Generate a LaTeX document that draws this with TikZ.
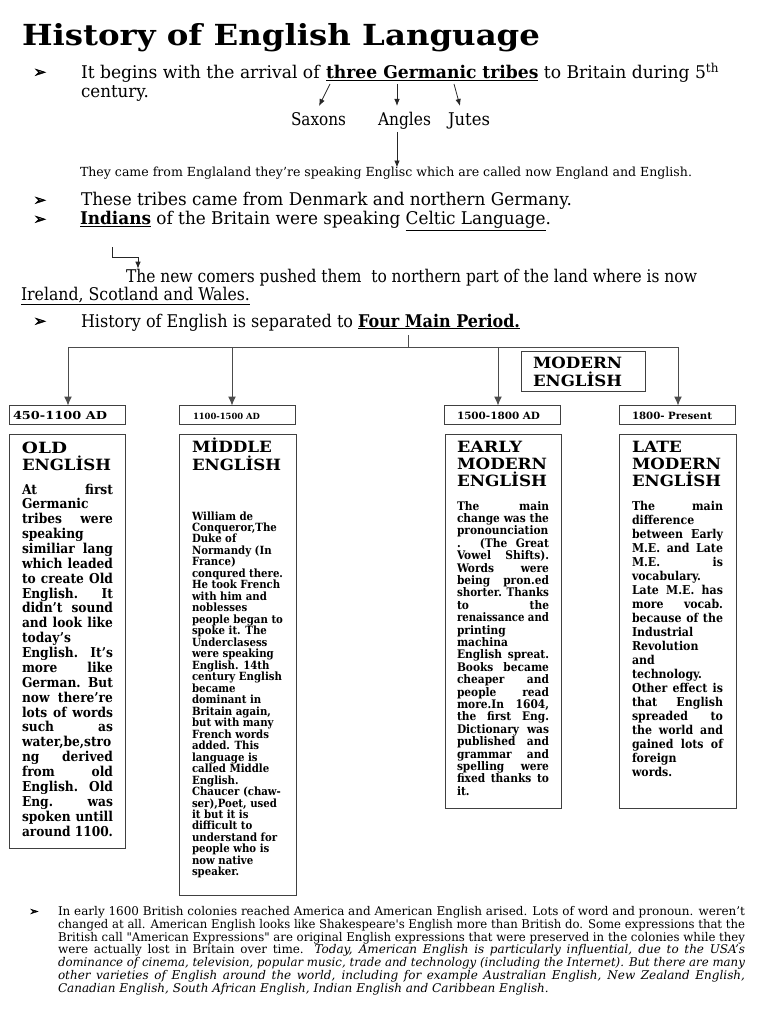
\documentclass[tikz,border=0pt]{standalone}
\usepackage{fontspec}
\usepackage{graphicx}
\setmainfont{DejaVu Serif Condensed}
\newfontfamily\wide{DejaVu Serif}
\newfontfamily\symf[FakeBold=3]{DejaVu Sans}
\usetikzlibrary{arrows.meta}
\newsavebox\lbox
\newlength\lw
\newcommand\fitw[2]{\resizebox{#1}{\height}{#2}}
\newcommand\jl[2]{\sbox\lbox{#2}\ifdim\wd\lbox>#1\relax\resizebox{#1}{\height}{\usebox\lbox}\else\makebox[#1][s]{#2}\fi}
\newcommand\nl[2]{\sbox\lbox{#2}\ifdim\wd\lbox>#1\relax\resizebox{#1}{\height}{\usebox\lbox}\else\usebox\lbox\fi}
\newcommand\jln[1]{\hbox{\jl{\lw}{#1}}}
\newcommand\rln[1]{\hbox{\nl{\lw}{#1}}}
\newcommand\blk[3]{\lw=#1\relax\vtop{\baselineskip=#2\relax #3}}
\begin{document}
\begin{tikzpicture}[x=1pt,y=-1pt,
  every node/.style={inner sep=0pt, outer sep=0pt},
  txt/.style={anchor=base west, font=\fontsize{17.5}{17.5}\selectfont\wide},
  bul/.style={font=\fontsize{15}{15}\selectfont\symf},
  arr/.style={-{Latex[length=7pt,width=5.5pt]}, line width=0.8pt, black!85},
  tree/.style={line width=1pt, black!70},
  treearr/.style={tree, -{Latex[length=9pt,width=8pt]}},
  frame/.style={draw=black!75, line width=1pt},
  datebox/.style={frame, minimum width=116pt, minimum height=19pt},
  head/.style={anchor=base west, font=\fontsize{15.5}{15.5}\selectfont\bfseries},
  datetxt/.style={anchor=base west},
  body/.style={anchor=base west}]
\useasboundingbox (0,0) rectangle (768,1024);

% title
\node[anchor=base west] (title) at (22,46) {\fontsize{29}{29}\selectfont\wide\bfseries\fitw{518pt}{History of English Language}};

% bullets and lines
\node[bul] (b1) at (40,73) {➢};
\node[txt] (l1) at (81,79) {\fitw{638pt}{It begins with the arrival of \textbf{\underline{three Germanic tribes}} to Britain during 5\textsuperscript{th}}};
\node[txt] (l1b) at (81,98) {\fitw{68pt}{century.}};

\node[txt] (sax) at (291,126) {\fitw{55pt}{Saxons}};
\node[txt] (ang) at (378,126) {\fitw{53pt}{Angles}};
\node[txt] (jut) at (448,126) {\fitw{42pt}{Jutes}};

\coordinate (t1) at (330,84);
\coordinate (t2) at (397,84);
\coordinate (t3) at (454,84);
\coordinate (s1) at (319,106);
\coordinate (s2) at (397,106);
\coordinate (s3) at (460,106);
\draw[arr] (t1) -- (s1);
\draw[arr] (t2) -- (s2);
\draw[arr] (t3) -- (s3);

\node[anchor=base west, font=\fontsize{12.5}{12.5}\selectfont\wide] (came) at (80,177) {\fitw{612pt}{They came from Englaland they’re speaking Englisc which are called now England and English.}};
\draw[arr] (ang.south -| t2) ++(0,2) -- (came.north -| t2);

\node[bul] (b2) at (40,201) {➢};
\node[txt] (l2) at (81,206) {\fitw{491pt}{These tribes came from Denmark and northern Germany.}};
\node[bul] (b3) at (40,220) {➢};
\node[txt] (l3) at (80,225) {\fitw{471pt}{\textbf{\underline{Indians}} of the Britain were speaking \underline{Celtic Language}.}};

\coordinate (e1) at (112,247);
\coordinate (e2) at (138,257);
\node[txt] (l4) at (126,282) {\fitw{571pt}{The new comers pushed them\ \ to northern part of the land where is now}};
\draw[arr] (e1) |- (e2) -- (e2 |- l4.north);
\node[txt] (l5) at (21,300) {\fitw{229pt}{\underline{Ireland, Scotland and Wales.}}};

\node[bul] (b4) at (40,322) {➢};
\node[txt] (l6) at (81,327) {\fitw{439pt}{History of English is separated to \textbf{\underline{Four Main Period.}}}};

% tree
\coordinate (stub) at (408,335);
\coordinate (hj) at (408,347);
\coordinate (j1) at (68,347);
\coordinate (j2) at (232,347);
\coordinate (j3) at (498,347);
\coordinate (j4) at (678,347);
\draw[tree] (stub) -- (hj);
\draw[tree] (j1) -- (j4);

\node[datebox] (d1) at (67,415) {};
\node[datebox] (d2) at (237,415) {};
\node[datebox] (d3) at (502,415) {};
\node[datebox] (d4) at (677,415) {};
\draw[treearr] (j1) -- (j1 |- d1.north);
\draw[treearr] (j2) -- (j2 |- d2.north);
\draw[treearr] (j3) -- (j3 |- d3.north);
\draw[treearr] (j4) -- (j4 |- d4.north);

\node[datetxt, font=\bfseries\fontsize{11}{11}\selectfont] (d1t) at (13,419.5) {\fitw{94pt}{450-1100 AD}};
\node[datetxt, font=\bfseries\fontsize{8.5}{8.5}\selectfont] (d2t) at (193,419) {\fitw{67pt}{1100-1500 AD}};
\node[datetxt, font=\bfseries\fontsize{10}{10}\selectfont] (d3t) at (457,419) {\fitw{83pt}{1500-1800 AD}};
\node[datetxt, font=\bfseries\fontsize{10}{10}\selectfont] (d4t) at (632,419) {\fitw{80pt}{1800- Present}};

% modern english box
\node[frame, minimum width=124pt, minimum height=40pt] (mod) at (583,371) {};
\node[head] (modt) at (533,368) {\vtop{\baselineskip=18pt\hbox{\fitw{89pt}{MODERN}}\hbox{\fitw{89pt}{ENGLİSH}}}};

% content boxes
\node[frame, minimum width=116pt, minimum height=414pt] (c1) at (67,641) {};
\node[frame, minimum width=117pt, minimum height=461pt] (c2) at (237.5,664.5) {};
\node[frame, minimum width=116pt, minimum height=374pt] (c3) at (503,621) {};
\node[frame, minimum width=117pt, minimum height=374pt] (c4) at (677.5,621) {};

\node[head] (h1) at (22,453) {\vtop{\baselineskip=17pt\hbox{\fitw{45pt}{OLD}}\hbox{\fitw{89pt}{ENGLİSH}}}};
\node[head] (h2) at (192,452) {\vtop{\baselineskip=18pt\hbox{\fitw{80pt}{MİDDLE}}\hbox{\fitw{89pt}{ENGLİSH}}}};
\node[head] (h3) at (457,452) {\vtop{\baselineskip=17pt\hbox{\fitw{65pt}{EARLY}}\hbox{\fitw{90pt}{MODERN}}\hbox{\fitw{90pt}{ENGLİSH}}}};
\node[head] (h4) at (632,452) {\vtop{\baselineskip=17pt\hbox{\fitw{50pt}{LATE}}\hbox{\fitw{89pt}{MODERN}}\hbox{\fitw{89pt}{ENGLİSH}}}};

\node[body] (bt1) at (22,494) {\bfseries\fontsize{13.6}{14.87}\selectfont\blk{91pt}{14.87pt}{%
\jln{At first}
\rln{Germanic}
\jln{tribes were}
\rln{speaking}
\jln{similiar lang}
\jln{which leaded}
\jln{to create Old}
\jln{English. It}
\jln{didn’t sound}
\jln{and look like}
\rln{today’s}
\jln{English. It’s}
\jln{more like}
\jln{German. But}
\jln{now there’re}
\jln{lots of words}
\jln{such as}
\rln{water,be,stro}
\jln{ng derived}
\jln{from old}
\jln{English. Old}
\jln{Eng. was}
\jln{spoken untill}
\rln{around 1100.}}};

\node[body] (bt2) at (192,520) {\bfseries\fontsize{11.3}{11.48}\selectfont\blk{91pt}{11.48pt}{%
\rln{William de}
\rln{Conqueror,The}
\rln{Duke of}
\rln{Normandy (In}
\rln{France)}
\rln{conqured there.}
\rln{He took French}
\rln{with him and}
\rln{noblesses}
\rln{people began to}
\rln{spoke it. The}
\rln{Underclasess}
\rln{were speaking}
\rln{English. 14th}
\rln{century English}
\rln{became}
\rln{dominant in}
\rln{Britain again,}
\rln{but with many}
\rln{French words}
\rln{added. This}
\rln{language is}
\rln{called Middle}
\rln{English.}
\rln{Chaucer (chaw-}
\rln{ser),Poet, used}
\rln{it but it is}
\rln{difficult to}
\rln{understand for}
\rln{people who is}
\rln{now native}
\rln{speaker.}}};

\node[body] (bt3) at (457,510) {\bfseries\fontsize{11.8}{12.4}\selectfont\blk{92pt}{12.4pt}{%
\jln{The main}
\jln{change was the}
\rln{pronounciation}
\jln{. (The Great}
\jln{Vowel Shifts).}
\jln{Words were}
\jln{being pron.ed}
\jln{shorter. Thanks}
\jln{to the}
\jln{renaissance and}
\rln{printing}
\rln{machina}
\jln{English spreat.}
\jln{Books became}
\jln{cheaper and}
\jln{people read}
\jln{more.In 1604,}
\jln{the first Eng.}
\jln{Dictionary was}
\jln{published and}
\jln{grammar and}
\jln{spelling were}
\jln{fixed thanks to}
\rln{it.}}};

\node[body] (bt4) at (632,510) {\bfseries\fontsize{12.2}{14.05}\selectfont\blk{91pt}{14.05pt}{%
\jln{The main}
\rln{difference}
\jln{between Early}
\jln{M.E. and Late}
\jln{M.E. is}
\rln{vocabulary.}
\jln{Late M.E. has}
\jln{more vocab.}
\jln{because of the}
\rln{Industrial}
\rln{Revolution}
\rln{and}
\rln{technology.}
\jln{Other effect is}
\jln{that English}
\jln{spreaded to}
\jln{the world and}
\jln{gained lots of}
\rln{foreign}
\rln{words.}}};

% bottom paragraph
\node[font=\fontsize{11}{11}\selectfont\symf] (b5) at (34,912) {➢};
\node[body] (para) at (58,915.5) {\wide\fontsize{12}{11.7}\selectfont\blk{687pt}{11.7pt}{%
\jln{In early 1600 British colonies reached America and American English arised. Lots of word and pronoun. weren’t}
\jln{changed at all. American English looks like Shakespeare's English more than British do. Some expressions that the}
\jln{British call "American Expressions" are original English expressions that were preserved in the colonies while they}
\jln{were actually lost in Britain over time. \textit{Today, American English is particularly influential, due to the USA’s}}
\jln{\textit{dominance of cinema, television, popular music, trade and technology (including the Internet). But there are many}}
\jln{\textit{other varieties of English around the world, including for example Australian English, New Zealand English,}}
\rln{\textit{Canadian English, South African English, Indian English and Caribbean English.}}}};
\end{tikzpicture}
\end{document}
